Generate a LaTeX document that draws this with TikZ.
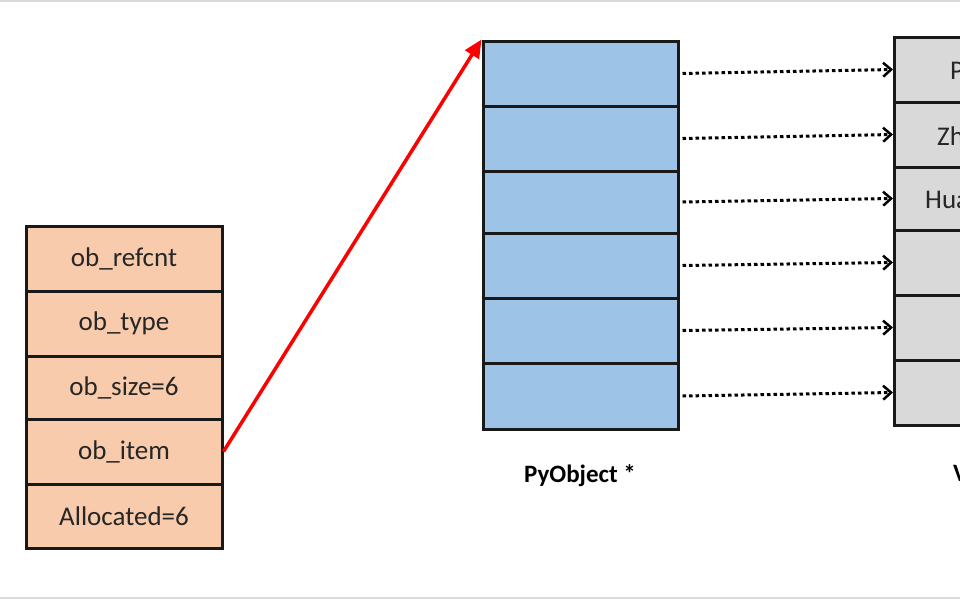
\documentclass[tikz,border=0pt]{standalone}
\usepackage{fontspec}
\setmainfont{Carlito}
\usetikzlibrary{arrows.meta}
\definecolor{peach}{HTML}{F8CBAD}
\definecolor{blu}{HTML}{9DC3E6}
\definecolor{gry}{HTML}{D9D9D9}
\begin{document}
\begin{tikzpicture}[x=1pt,y=-1pt,
  cell/.style={draw=black!90,line width=3pt},
  lbl/.style={font=\fontsize{27}{30}\selectfont,text=black!85},
  ptr/.style={line width=3pt,dash pattern=on 3.5pt off 3pt,-{Straight Barb[length=8pt,width=14pt,line width=2.5pt]}}]
\useasboundingbox (0,0) rectangle (960,600);
\clip (0,0) rectangle (960,600);
\draw[gray!30,line width=2pt] (0,1) -- (960,1) (0,598) -- (960,598);
% left struct
\foreach \a/\b/\t [count=\i] in {226/291/ob\_refcnt,291/356/ob\_type,356/419/ob\_size=6,419/484/ob\_item,484/548/Allocated=6}{
  \node[cell,fill=peach,minimum width=196pt,minimum height=\b-\a pt,inner sep=0,lbl] (L\i) at (124,{(\a+\b)/2}) {\t};}
% middle
\foreach \a/\b [count=\i] in {41/106,106/171,171/233,233/298,298/363,363/429}{
  \node[cell,fill=blu,minimum width=195pt,minimum height=\b-\a pt,inner sep=0] (M\i) at (580.5,{(\a+\b)/2}) {};}
\node[font=\fontsize{25}{28}\selectfont\bfseries] (ml) at (580,476) {PyObject *};
% right
\foreach \a/\b [count=\i] in {37/102,102/167,167/230,230/295,295/360,360/425}{
  \node[cell,fill=gry,minimum width=200pt,minimum height=\b-\a pt,inner sep=0,anchor=west] (R\i) at (893,{(\a+\b)/2}) {};}
\node[lbl,anchor=west,inner sep=0] (t1) at (950,71) {P};
\node[lbl,anchor=west,inner sep=0] (t2) at (937,136) {Zh};
\node[lbl,anchor=west,inner sep=0] (t3) at (925,200) {Hua};
\node[font=\fontsize{25}{28}\selectfont\bfseries,anchor=west,inner sep=0] (vl) at (953,473) {V};
\foreach \i in {1,...,6}{\draw[ptr] (M\i.east) ++(3,0) -- (R\i.west);}
\draw[red,line width=3.5pt,-{Triangle[length=18pt,width=16pt]}] (L4.east) -- (M1.north west);
\end{tikzpicture}
\end{document}
